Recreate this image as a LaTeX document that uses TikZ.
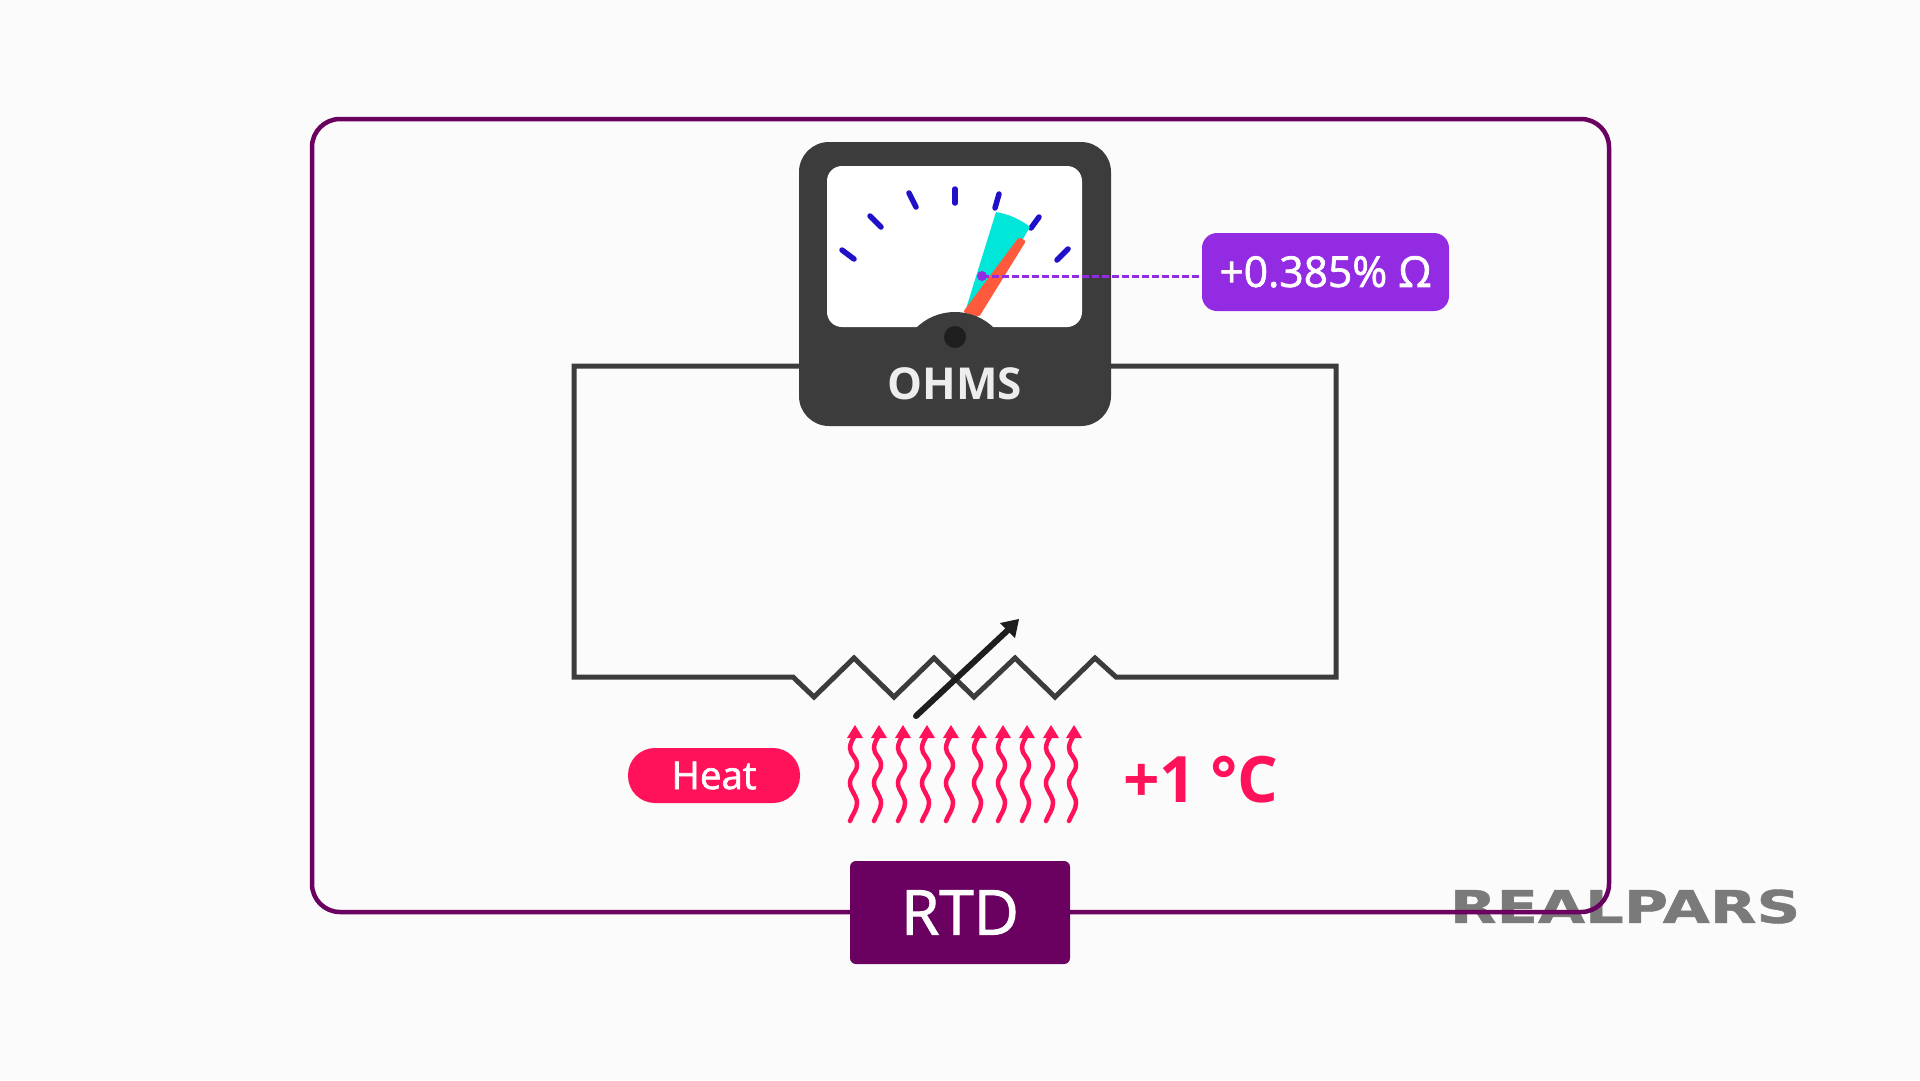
\documentclass[tikz,border=0pt]{standalone}
\usepackage{fontspec}
\setmainfont{Open Sans}
\newfontfamily\medfont[FakeBold=1.6]{Open Sans}
\newfontfamily\logofont[FakeBold=1]{DejaVu Sans}
\usetikzlibrary{arrows.meta}
\definecolor{bgc}{HTML}{FBFBFC}
\definecolor{plum}{HTML}{6A0060}
\definecolor{wirec}{HTML}{3C3C3C}
\definecolor{hotc}{HTML}{FF125A}
\definecolor{violetc}{HTML}{922BE2}
\definecolor{cyanc}{HTML}{00E6D8}
\definecolor{needlec}{HTML}{FF5A3C}
\definecolor{tickc}{HTML}{2010C8}
\definecolor{hubc}{HTML}{1E1E1E}
\definecolor{logoc}{HTML}{7A7A7A}
\tikzset{
  wire/.style={draw=wirec,line width=5pt,line join=miter},
  loopline/.style={draw=plum,line width=4.5pt},
  tickmark/.style={draw=tickc,line width=5.5pt,line cap=round},
  wavy/.style={draw=hotc,line width=4.5pt,line cap=round},
  wavyhead/.style={fill=hotc},
}
\begin{document}
\begin{tikzpicture}[x=1pt,y=-1pt]
\useasboundingbox (0,0) rectangle (1920,1080);
\fill[bgc] (0,0) rectangle (1920,1080);
% logo
\node[inner sep=0pt,text=logoc,xscale=1.35,yscale=1.0] (logo) at (1625,906.5) {\logofont\fontsize{45}{45}\selectfont\bfseries REALPARS};
% outer loop
\draw[loopline,rounded corners=28pt] (312,119) rectangle (1609,912);
% RTD
\node[fill=plum,rounded corners=6pt,minimum width=220pt,minimum height=103pt,inner sep=0pt,text=white,font=\medfont\fontsize{62}{62}\selectfont] (rtd) at (960,912.5) {RTD};
% circuit
\coordinate (mL) at (799,366);
\coordinate (mR) at (1111,366);
\draw[wire] (mL) -- (574,366) -- (574,677) -- (793,677) -- (814,697) -- (854,658) -- (894,697) -- (934,658) -- (974,697) -- (1015,658) -- (1055,697) -- (1095,658) -- (1116,677) -- (1336,677) -- (1336,366) -- (mR);
% variable arrow
\coordinate (arA) at (916,716);
\coordinate (arB) at (1008,630);
\draw[draw=hubc,line width=6pt,line cap=round] (arA) -- (arB);
\fill[hubc] (1019,619) -- (1000,623) -- (1015,638) -- cycle;
% meter
\fill[wirec,rounded corners=30pt] (799,142) rectangle (1111,426);
\fill[white,rounded corners=15pt] (827,166) rectangle (1082,327);
% ticks
\draw[tickmark] (842,250) -- (854,259);
\draw[tickmark] (870,216) -- (881,227);
\draw[tickmark] (909,193) -- (916,207);
\draw[tickmark] (955,189) -- (955,203);
\draw[tickmark] (999,194) -- (995,208);
\draw[tickmark] (1039,217) -- (1031,228);
\draw[tickmark] (1068,249) -- (1057,260);
% wedge and needle
\fill[cyanc] (965,312) -- (996,212) .. controls (1008,214) and (1020,219) .. (1030,227) -- (977,316) -- cycle;
\fill[needlec,rounded corners=2pt] (963,312) -- (1019,237) -- (1026,241) -- (979,317) -- cycle;
% hub
\begin{scope}
\clip (890,300) rectangle (1020,345);
\fill[wirec] (955,367.6) circle[radius=55.6pt];
\end{scope}
\fill[hubc] (955,337) circle[radius=11pt];
\node[inner sep=0pt,text=white!93!black,font=\fontsize{44}{44}\selectfont\bfseries] (ohms) at (955,384) {OHMS};
% label and leader
\node[fill=violetc,rounded corners=15pt,minimum width=247pt,minimum height=78pt,inner sep=0pt,text=white,font=\medfont\fontsize{42.5}{42.5}\selectfont] (pct) at (1325.5,272) {\raisebox{1pt}{+0.385\% Ω}};
\coordinate (dot) at (982,276);
\draw[draw=violetc,line width=3pt,dash pattern=on 6.5pt off 3.5pt] (dot) -- (pct.west |- dot);
\fill[violetc] (dot) circle[radius=5pt];
% heat
\node[fill=hotc,rounded corners=27pt,minimum width=172pt,minimum height=55pt,inner sep=0pt,text=white,font=\medfont\fontsize{38.5}{38.5}\selectfont] (heat) at (714,775.5) {Heat};
\foreach \x in {855,879,903,927,951,979,1003,1027,1051,1074}{
  \draw[wavy] (\x-5,821) .. controls (\x-3,815) and (\x+2,810) .. (\x+2,803) .. controls (\x+2,795) and (\x-5,791) .. (\x-5,783) .. controls (\x-5,775) and (\x+2,773) .. (\x+2,765) .. controls (\x+2,757) and (\x-5,755) .. (\x-5,748) .. controls (\x-5,743) and (\x-2,739) .. (\x,735);
  \fill[wavyhead] (\x,725) -- (\x+8,738) -- (\x-8,738) -- cycle;
}
\node[inner sep=0pt,text=hotc,font=\fontsize{64}{64}\selectfont\bfseries] (temp) at (1201,780) {+1\hspace{14pt}°C};
\end{tikzpicture}
\end{document}
